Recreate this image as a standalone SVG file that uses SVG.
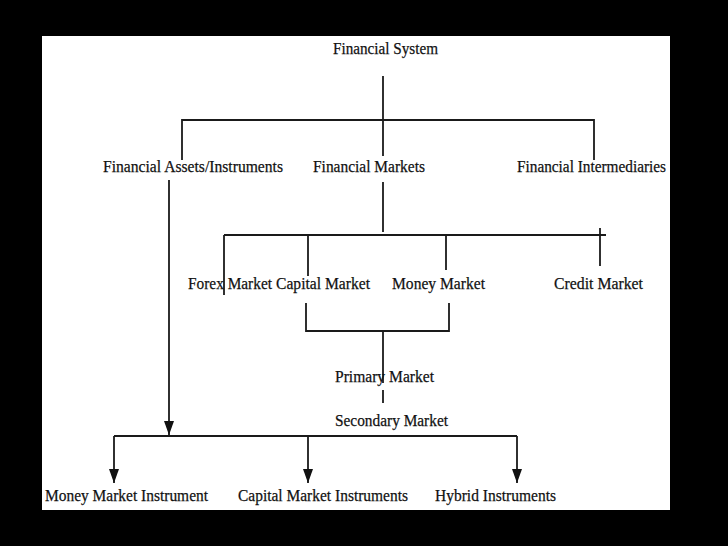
<svg xmlns="http://www.w3.org/2000/svg" width="728" height="546" viewBox="0 0 728 546">
<defs>
<style>
.t{font-family:"Liberation Serif","Times New Roman",serif;font-size:17.5px;fill:#111;stroke:#111;stroke-width:0.25;text-anchor:start}
.c line,.c polyline{stroke:#1a1a1a;stroke-width:1.8;fill:none}
</style>
<marker id="ah" markerWidth="14" markerHeight="10" refX="14" refY="5" orient="auto" markerUnits="userSpaceOnUse" viewBox="0 0 14 10">
<path d="M0,0 L14,5 L0,10 Z" fill="#111"/>
</marker>
</defs>
<rect width="728" height="546" fill="#000"/>
<rect x="42" y="36" width="628" height="474" fill="#fff"/>
<g class="c" id="connectors">
<line x1="383" y1="76" x2="383" y2="156"/>
<polyline points="182,160 182,120 594,120 594,160"/>
<line x1="383" y1="182" x2="383" y2="232"/>
<line x1="224" y1="235" x2="606" y2="235"/>
<line x1="224" y1="235" x2="224" y2="295"/>
<line x1="308" y1="235" x2="308" y2="276"/>
<line x1="446" y1="235" x2="446" y2="270"/>
<line x1="600" y1="228" x2="600" y2="266"/>
<polyline points="306,303 306,331 449,331 449,303"/>
<line x1="383" y1="331" x2="383" y2="383"/>
<line x1="383" y1="390" x2="383" y2="403"/>
<line x1="169" y1="180" x2="169" y2="435" marker-end="url(#ah)"/>
<line x1="114" y1="436" x2="517" y2="436"/>
<line x1="114" y1="436" x2="114" y2="483" marker-end="url(#ah)"/>
<line x1="308" y1="436" x2="308" y2="483" marker-end="url(#ah)"/>
<line x1="517" y1="436" x2="517" y2="483" marker-end="url(#ah)"/>
</g>
<g id="n-system"><text class="t" x="333" y="54" textLength="105" lengthAdjust="spacingAndGlyphs">Financial System</text></g>
<g id="n-assets"><text class="t" x="103" y="172" textLength="180" lengthAdjust="spacingAndGlyphs">Financial Assets/Instruments</text></g>
<g id="n-markets"><text class="t" x="313" y="172" textLength="112" lengthAdjust="spacingAndGlyphs">Financial Markets</text></g>
<g id="n-intermediaries"><text class="t" x="517" y="172" textLength="149" lengthAdjust="spacingAndGlyphs">Financial Intermediaries</text></g>
<g id="n-forex"><text class="t" x="188" y="289" textLength="84" lengthAdjust="spacingAndGlyphs">Forex Market</text></g>
<g id="n-capital"><text class="t" x="276" y="289" textLength="94" lengthAdjust="spacingAndGlyphs">Capital Market</text></g>
<g id="n-money"><text class="t" x="392" y="289" textLength="93" lengthAdjust="spacingAndGlyphs">Money Market</text></g>
<g id="n-credit"><text class="t" x="554" y="289" textLength="89" lengthAdjust="spacingAndGlyphs">Credit Market</text></g>
<g id="n-primary"><text class="t" x="335" y="382" textLength="99" lengthAdjust="spacingAndGlyphs">Primary Market</text></g>
<g id="n-secondary"><text class="t" x="335" y="426" textLength="113" lengthAdjust="spacingAndGlyphs">Secondary Market</text></g>
<g id="n-mmi"><text class="t" x="45" y="501" textLength="163" lengthAdjust="spacingAndGlyphs">Money Market Instrument</text></g>
<g id="n-cmi"><text class="t" x="238" y="501" textLength="170" lengthAdjust="spacingAndGlyphs">Capital Market Instruments</text></g>
<g id="n-hybrid"><text class="t" x="435" y="501" textLength="121" lengthAdjust="spacingAndGlyphs">Hybrid Instruments</text></g>
</svg>
